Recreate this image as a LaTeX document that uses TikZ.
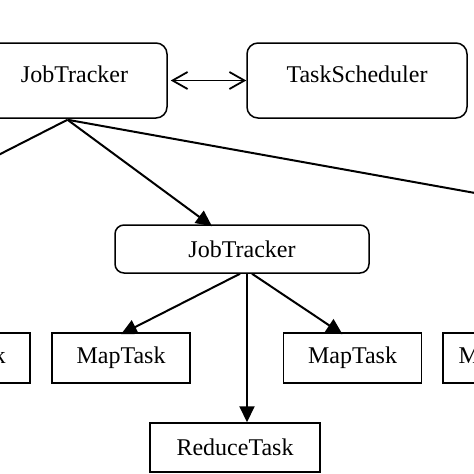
\documentclass[tikz,border=0pt]{standalone}
\usepackage{fontspec}
\setmainfont{Liberation Serif}
\usetikzlibrary{arrows.meta}

\begin{document}
\begin{tikzpicture}[x=1pt,y=-1pt,
tracker/.style={draw,rounded corners=11pt,line width=1.5pt,minimum height=75pt},
task/.style={draw,line width=1.5pt,minimum width=138pt,minimum height=50pt},
link/.style={line width=2pt,-{Triangle[length=16pt,width=15pt]}},
every node/.style={font=\fontsize{24}{28}\selectfont,inner sep=0pt}]
\useasboundingbox (0,0) rectangle (474,474);
\clip (0,0) rectangle (474,474);

    % top level
    \node[tracker,minimum width=185pt,text depth=13pt] (jt) at (74.5,80.5) {JobTracker};
    \node[tracker,minimum width=220pt,text depth=13pt] (ts) at (357,80.5) {TaskScheduler};
    \draw[line width=1.8pt,{Straight Barb[length=15pt,width=17pt]}-{Straight Barb[length=15pt,width=17pt]}]
      ([xshift=3pt]jt.east) -- (ts.west);

    % second level
    \node[tracker,rounded corners=9pt,minimum width=254pt,minimum height=48pt] (mjt) at (242,249) {JobTracker};
    \coordinate (fork) at ([xshift=-7pt,yshift=-1pt]jt.south);
    \coordinate (leftjt) at (-135,223);
    \coordinate (rightjt) at (642,223);
    \draw[link] (fork) -- (leftjt);
    \draw[link] (fork) -- ([xshift=-30pt,yshift=-2pt]mjt.north);
    \draw[link] (fork) -- (rightjt);

    % tasks
    \node[task] (mapa) at (-39,358) {MapTask};
    \node[task] (mapb) at (121,358) {MapTask};
    \node[task] (mapc) at (352.5,358) {MapTask};
    \node[task,minimum width=120pt] (mapd) at (503,358) {MapTask};
    \node[task,minimum width=170pt,minimum height=49pt] (red) at (235,447.5) {ReduceTask};

    \draw[link] ([xshift=-2pt]mjt.south) -- ([yshift=-2pt]mapb.north);
    \draw[link] ([xshift=10pt]mjt.south) -- ([xshift=-10pt,yshift=-2pt]mapc.north);
    \draw[link] ([xshift=5pt]mjt.south) -- ([xshift=12pt]red.north);

\end{tikzpicture}
\end{document}
